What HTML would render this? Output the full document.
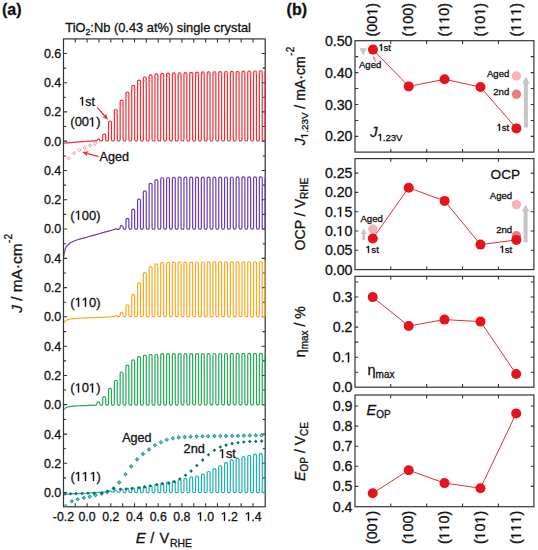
<!DOCTYPE html>
<html><head><meta charset="utf-8"><style>
html,body{margin:0;padding:0;background:#fff;}
svg{display:block;}
text{font-family:"Liberation Sans", sans-serif;fill:#111;stroke:#111;stroke-width:0.3px;}
</style></head><body>
<svg width="538" height="550" viewBox="0 0 538 550">
<rect width="538" height="550" fill="#fff"/>
<rect x="63.5" y="38.9" width="201.70" height="467.90" fill="none" stroke="#333" stroke-width="1.2"/>
<path d="M75.25 38.9v3.5M75.25 506.8v-3.5M87.10 38.9v3.5M87.10 506.8v-3.5M98.95 38.9v3.5M98.95 506.8v-3.5M110.80 38.9v3.5M110.80 506.8v-3.5M122.65 38.9v3.5M122.65 506.8v-3.5M134.50 38.9v3.5M134.50 506.8v-3.5M146.35 38.9v3.5M146.35 506.8v-3.5M158.20 38.9v3.5M158.20 506.8v-3.5M170.05 38.9v3.5M170.05 506.8v-3.5M181.90 38.9v3.5M181.90 506.8v-3.5M193.75 38.9v3.5M193.75 506.8v-3.5M205.60 38.9v3.5M205.60 506.8v-3.5M217.45 38.9v3.5M217.45 506.8v-3.5M229.30 38.9v3.5M229.30 506.8v-3.5M241.15 38.9v3.5M241.15 506.8v-3.5M253.00 38.9v3.5M253.00 506.8v-3.5M63.5 141.10h3.6M265.2 141.10h-3.6M63.5 126.50h2.6M265.2 126.50h-2.6M63.5 111.90h3.6M265.2 111.90h-3.6M63.5 97.30h2.6M265.2 97.30h-2.6M63.5 82.70h3.6M265.2 82.70h-3.6M63.5 68.10h2.6M265.2 68.10h-2.6M63.5 53.50h3.6M265.2 53.50h-3.6M63.5 228.95h3.6M265.2 228.95h-3.6M63.5 214.35h2.6M265.2 214.35h-2.6M63.5 199.75h3.6M265.2 199.75h-3.6M63.5 185.15h2.6M265.2 185.15h-2.6M63.5 170.55h3.6M265.2 170.55h-3.6M63.5 155.95h2.6M265.2 155.95h-2.6M63.5 316.80h3.6M265.2 316.80h-3.6M63.5 302.20h2.6M265.2 302.20h-2.6M63.5 287.60h3.6M265.2 287.60h-3.6M63.5 273.00h2.6M265.2 273.00h-2.6M63.5 258.40h3.6M265.2 258.40h-3.6M63.5 243.80h2.6M265.2 243.80h-2.6M63.5 404.65h3.6M265.2 404.65h-3.6M63.5 390.05h2.6M265.2 390.05h-2.6M63.5 375.45h3.6M265.2 375.45h-3.6M63.5 360.85h2.6M265.2 360.85h-2.6M63.5 346.25h3.6M265.2 346.25h-3.6M63.5 331.65h2.6M265.2 331.65h-2.6M63.5 492.50h3.6M265.2 492.50h-3.6M63.5 477.90h2.6M265.2 477.90h-2.6M63.5 463.30h3.6M265.2 463.30h-3.6M63.5 448.70h2.6M265.2 448.70h-2.6M63.5 434.10h3.6M265.2 434.10h-3.6M63.5 419.50h2.6M265.2 419.50h-2.6" stroke="#333" stroke-width="1.1" fill="none"/>
<text x="61.3" y="145.55" font-size="12.5" text-anchor="end">0.0</text>
<text x="61.3" y="116.35" font-size="12.5" text-anchor="end">0.2</text>
<text x="61.3" y="87.15" font-size="12.5" text-anchor="end">0.4</text>
<text x="61.3" y="57.95" font-size="12.5" text-anchor="end">0.6</text>
<text x="61.3" y="233.40" font-size="12.5" text-anchor="end">0.0</text>
<text x="61.3" y="204.20" font-size="12.5" text-anchor="end">0.2</text>
<text x="61.3" y="175.00" font-size="12.5" text-anchor="end">0.4</text>
<text x="61.3" y="321.25" font-size="12.5" text-anchor="end">0.0</text>
<text x="61.3" y="292.05" font-size="12.5" text-anchor="end">0.2</text>
<text x="61.3" y="262.85" font-size="12.5" text-anchor="end">0.4</text>
<text x="61.3" y="409.10" font-size="12.5" text-anchor="end">0.0</text>
<text x="61.3" y="379.90" font-size="12.5" text-anchor="end">0.2</text>
<text x="61.3" y="350.70" font-size="12.5" text-anchor="end">0.4</text>
<text x="61.3" y="496.95" font-size="12.5" text-anchor="end">0.0</text>
<text x="61.3" y="467.75" font-size="12.5" text-anchor="end">0.2</text>
<text x="61.3" y="438.55" font-size="12.5" text-anchor="end">0.4</text>
<text x="63.40" y="520.7" font-size="12.3" text-anchor="middle">-0.2</text>
<text x="87.10" y="520.7" font-size="12.3" text-anchor="middle">0.0</text>
<text x="110.80" y="520.7" font-size="12.3" text-anchor="middle">0.2</text>
<text x="134.50" y="520.7" font-size="12.3" text-anchor="middle">0.4</text>
<text x="158.20" y="520.7" font-size="12.3" text-anchor="middle">0.6</text>
<text x="181.90" y="520.7" font-size="12.3" text-anchor="middle">0.8</text>
<text x="205.60" y="520.7" font-size="12.3" text-anchor="middle"> .0</text>
<text x="229.30" y="520.7" font-size="12.3" text-anchor="middle"> .2</text>
<text x="253.00" y="520.7" font-size="12.3" text-anchor="middle"> .4</text>
<defs><clipPath id="ca"><rect x="64.1" y="39.5" width="201.7" height="466.7"/></clipPath></defs>
<g clip-path="url(#ca)" fill="none" stroke-width="1.2" stroke-linejoin="round">
<path d="M63.50 143.10L65.05 142.98L66.15 142.90L67.15 142.82L70.85 142.54L71.95 142.46L72.95 142.38L76.65 142.10L77.75 142.01L78.75 141.94L82.45 141.66L83.55 141.57L84.55 141.50L88.25 141.22L89.35 141.13L90.35 141.06L94.05 140.81L95.15 140.85L96.15 140.88L96.65 140.95Q98.40 137.25 100.15 140.95L100.95 141.00L101.95 141.00L101.44 141.00Q102.75 141.00 102.75 139.55L102.75 135.50Q102.75 134.05 104.20 134.05Q105.65 134.05 105.65 135.50L105.65 139.55Q105.65 141.00 106.96 141.00L106.75 141.00L107.75 141.00L107.24 141.00Q108.55 141.00 108.55 139.55L108.55 122.45Q108.55 121.00 110.00 121.00Q111.45 121.00 111.45 122.45L111.45 139.55Q111.45 141.00 112.76 141.00L112.55 141.00L113.55 141.00L113.05 141.00Q114.35 141.00 114.35 139.55L114.35 110.96Q114.35 109.51 115.80 109.51Q117.25 109.51 117.25 110.96L117.25 139.55Q117.25 141.00 118.56 141.00L118.35 141.00L119.35 141.00L118.84 141.00Q120.15 141.00 120.15 139.55L120.15 101.50Q120.15 100.05 121.60 100.05Q123.05 100.05 123.05 101.50L123.05 139.55Q123.05 141.00 124.36 141.00L124.15 141.00L125.15 141.00L124.64 141.00Q125.95 141.00 125.95 139.55L125.95 93.56Q125.95 92.11 127.40 92.11Q128.85 92.11 128.85 93.56L128.85 139.55Q128.85 141.00 130.16 141.00L129.95 141.00L130.95 141.00L130.44 141.00Q131.75 141.00 131.75 139.55L131.75 86.88Q131.75 85.43 133.20 85.43Q134.65 85.43 134.65 86.88L134.65 139.55Q134.65 141.00 135.95 141.00L135.75 141.00L136.75 141.00L136.25 141.00Q137.55 141.00 137.55 139.55L137.55 81.58Q137.55 80.13 139.00 80.13Q140.45 80.13 140.45 81.58L140.45 139.55Q140.45 141.00 141.75 141.00L141.55 141.00L142.55 141.00L142.05 141.00Q143.35 141.00 143.35 139.55L143.35 78.22Q143.35 76.77 144.80 76.77Q146.25 76.77 146.25 78.22L146.25 139.55Q146.25 141.00 147.56 141.00L147.35 141.00L148.35 141.00L147.84 141.00Q149.15 141.00 149.15 139.55L149.15 76.40Q149.15 74.95 150.60 74.95Q152.05 74.95 152.05 76.40L152.05 139.55Q152.05 141.00 153.35 141.00L153.15 141.00L154.15 141.00L153.65 141.00Q154.95 141.00 154.95 139.55L154.95 75.40Q154.95 73.95 156.40 73.95Q157.85 73.95 157.85 75.40L157.85 139.55Q157.85 141.00 159.16 141.00L158.95 141.00L159.95 141.00L159.44 141.00Q160.75 141.00 160.75 139.55L160.75 74.84Q160.75 73.39 162.20 73.39Q163.65 73.39 163.65 74.84L163.65 139.55Q163.65 141.00 164.95 141.00L164.75 141.00L165.75 141.00L165.25 141.00Q166.55 141.00 166.55 139.55L166.55 74.62Q166.55 73.17 168.00 73.17Q169.45 73.17 169.45 74.62L169.45 139.55Q169.45 141.00 170.75 141.00L170.55 141.00L171.55 141.00L171.05 141.00Q172.35 141.00 172.35 139.55L172.35 74.41Q172.35 72.96 173.80 72.96Q175.25 72.96 175.25 74.41L175.25 139.55Q175.25 141.00 176.56 141.00L176.35 141.00L177.35 141.00L176.85 141.00Q178.15 141.00 178.15 139.55L178.15 74.20Q178.15 72.75 179.60 72.75Q181.05 72.75 181.05 74.20L181.05 139.55Q181.05 141.00 182.36 141.00L182.15 141.00L183.15 141.00L182.65 141.00Q183.95 141.00 183.95 139.55L183.95 73.99Q183.95 72.54 185.40 72.54Q186.85 72.54 186.85 73.99L186.85 139.55Q186.85 141.00 188.16 141.00L187.95 141.00L188.95 141.00L188.44 141.00Q189.75 141.00 189.75 139.55L189.75 73.77Q189.75 72.32 191.20 72.32Q192.65 72.32 192.65 73.77L192.65 139.55Q192.65 141.00 193.95 141.00L193.75 141.00L194.75 141.00L194.25 141.00Q195.55 141.00 195.55 139.55L195.55 73.56Q195.55 72.11 197.00 72.11Q198.45 72.11 198.45 73.56L198.45 139.55Q198.45 141.00 199.75 141.00L199.55 141.00L200.55 141.00L200.05 141.00Q201.35 141.00 201.35 139.55L201.35 73.40Q201.35 71.95 202.80 71.95Q204.25 71.95 204.25 73.40L204.25 139.55Q204.25 141.00 205.56 141.00L205.35 141.00L206.35 141.00L205.85 141.00Q207.15 141.00 207.15 139.55L207.15 73.29Q207.15 71.84 208.60 71.84Q210.05 71.84 210.05 73.29L210.05 139.55Q210.05 141.00 211.36 141.00L211.15 141.00L212.15 141.00L211.65 141.00Q212.95 141.00 212.95 139.55L212.95 73.18Q212.95 71.73 214.40 71.73Q215.85 71.73 215.85 73.18L215.85 139.55Q215.85 141.00 217.16 141.00L216.95 141.00L217.95 141.00L217.44 141.00Q218.75 141.00 218.75 139.55L218.75 73.08Q218.75 71.63 220.20 71.63Q221.65 71.63 221.65 73.08L221.65 139.55Q221.65 141.00 222.95 141.00L222.75 141.00L223.75 141.00L223.25 141.00Q224.55 141.00 224.55 139.55L224.55 72.97Q224.55 71.52 226.00 71.52Q227.45 71.52 227.45 72.97L227.45 139.55Q227.45 141.00 228.75 141.00L228.55 141.00L229.55 141.00L229.05 141.00Q230.35 141.00 230.35 139.55L230.35 72.86Q230.35 71.41 231.80 71.41Q233.25 71.41 233.25 72.86L233.25 139.55Q233.25 141.00 234.56 141.00L234.35 141.00L235.35 141.00L234.84 141.00Q236.15 141.00 236.15 139.55L236.15 72.76Q236.15 71.31 237.60 71.31Q239.05 71.31 239.05 72.76L239.05 139.55Q239.05 141.00 240.35 141.00L240.15 141.00L241.15 141.00L240.65 141.00Q241.95 141.00 241.95 139.55L241.95 72.65Q241.95 71.20 243.40 71.20Q244.85 71.20 244.85 72.65L244.85 139.55Q244.85 141.00 246.16 141.00L245.95 141.00L246.95 141.00L246.44 141.00Q247.75 141.00 247.75 139.55L247.75 72.54Q247.75 71.09 249.20 71.09Q250.65 71.09 250.65 72.54L250.65 139.55Q250.65 141.00 251.95 141.00L251.75 141.00L252.75 141.00L252.25 141.00Q253.55 141.00 253.55 139.55L253.55 72.43Q253.55 70.98 255.00 70.98Q256.45 70.98 256.45 72.43L256.45 139.55Q256.45 141.00 257.75 141.00L257.55 141.00L258.55 141.00L258.05 141.00Q259.35 141.00 259.35 139.55L259.35 72.33Q259.35 70.88 260.80 70.88Q262.25 70.88 262.25 72.33L262.25 139.55Q262.25 141.00 263.56 141.00L263.35 141.00L264.35 141.00L263.85 141.00Q265.15 141.00 265.15 139.55L265.15 72.25Q265.15 70.80 266.60 70.80Q268.05 70.80 268.05 72.25L268.05 139.55Q268.05 141.00 269.36 141.00" stroke="#EC2E36"/>
<path d="M63.50 257.50L65.05 249.53L66.15 246.81L67.15 245.51L70.85 242.48L71.95 241.95L72.95 241.48L76.65 240.04L77.75 239.73L78.75 239.45L82.45 238.41L83.55 238.10L84.55 237.82L88.25 236.78L89.35 236.47L90.35 236.19L94.05 235.15L95.15 234.85L96.15 234.57L99.85 233.53L100.95 233.22L101.95 232.94L105.65 231.90L106.75 231.59L107.75 231.31L111.45 230.27L112.55 229.96L113.55 229.68L114.05 229.42Q115.80 228.30 117.55 229.42L118.35 229.29L119.35 229.23L118.84 229.20Q120.15 229.20 120.15 227.75L120.15 227.03Q120.15 225.58 121.60 225.58Q123.05 225.58 123.05 227.03L123.05 227.75Q123.05 229.20 124.36 229.20L124.15 229.20L125.15 229.19L124.64 229.19Q125.95 229.19 125.95 227.74L125.95 219.77Q125.95 218.32 127.40 218.32Q128.85 218.32 128.85 219.77L128.85 227.74Q128.85 229.19 130.16 229.19L129.95 229.19L130.95 229.19L130.44 229.19Q131.75 229.19 131.75 227.74L131.75 210.64Q131.75 209.19 133.20 209.19Q134.65 209.19 134.65 210.64L134.65 227.74Q134.65 229.19 135.95 229.19L135.75 229.18L136.75 229.18L136.25 229.18Q137.55 229.18 137.55 227.73L137.55 200.49Q137.55 199.04 139.00 199.04Q140.45 199.04 140.45 200.49L140.45 227.73Q140.45 229.18 141.75 229.18L141.55 229.18L142.55 229.17L142.05 229.17Q143.35 229.17 143.35 227.72L143.35 192.30Q143.35 190.85 144.80 190.85Q146.25 190.85 146.25 192.30L146.25 227.72Q146.25 229.17 147.56 229.17L147.35 229.17L148.35 229.17L147.84 229.17Q149.15 229.17 149.15 227.72L149.15 184.75Q149.15 183.30 150.60 183.30Q152.05 183.30 152.05 184.75L152.05 227.72Q152.05 229.17 153.35 229.17L153.15 229.16L154.15 229.16L153.65 229.16Q154.95 229.16 154.95 227.71L154.95 181.11Q154.95 179.66 156.40 179.66Q157.85 179.66 157.85 181.11L157.85 227.71Q157.85 229.16 159.16 229.16L158.95 229.16L159.95 229.16L159.44 229.15Q160.75 229.15 160.75 227.70L160.75 179.20Q160.75 177.75 162.20 177.75Q163.65 177.75 163.65 179.20L163.65 227.70Q163.65 229.15 164.95 229.15L164.75 229.15L165.75 229.15L165.25 229.15Q166.55 229.15 166.55 227.70L166.55 178.97Q166.55 177.52 168.00 177.52Q169.45 177.52 169.45 178.97L169.45 227.70Q169.45 229.15 170.75 229.15L170.55 229.14L171.55 229.14L171.05 229.14Q172.35 229.14 172.35 227.69L172.35 178.74Q172.35 177.29 173.80 177.29Q175.25 177.29 175.25 178.74L175.25 227.69Q175.25 229.14 176.56 229.14L176.35 229.14L177.35 229.14L176.85 229.13Q178.15 229.13 178.15 227.68L178.15 178.67Q178.15 177.22 179.60 177.22Q181.05 177.22 181.05 178.67L181.05 227.68Q181.05 229.13 182.36 229.13L182.15 229.13L183.15 229.13L182.65 229.13Q183.95 229.13 183.95 227.68L183.95 178.64Q183.95 177.19 185.40 177.19Q186.85 177.19 186.85 178.64L186.85 227.68Q186.85 229.13 188.16 229.13L187.95 229.12L188.95 229.12L188.44 229.12Q189.75 229.12 189.75 227.67L189.75 178.62Q189.75 177.17 191.20 177.17Q192.65 177.17 192.65 178.62L192.65 227.67Q192.65 229.12 193.95 229.12L193.75 229.12L194.75 229.12L194.25 229.11Q195.55 229.11 195.55 227.66L195.55 178.59Q195.55 177.14 197.00 177.14Q198.45 177.14 198.45 178.59L198.45 227.66Q198.45 229.11 199.75 229.11L199.55 229.11L200.55 229.11L200.05 229.11Q201.35 229.11 201.35 227.66L201.35 178.57Q201.35 177.12 202.80 177.12Q204.25 177.12 204.25 178.57L204.25 227.66Q204.25 229.11 205.56 229.11L205.35 229.11L206.35 229.10L205.85 229.10Q207.15 229.10 207.15 227.65L207.15 178.54Q207.15 177.09 208.60 177.09Q210.05 177.09 210.05 178.54L210.05 227.65Q210.05 229.10 211.36 229.10L211.15 229.10L212.15 229.10L211.65 229.10Q212.95 229.10 212.95 227.65L212.95 178.51Q212.95 177.06 214.40 177.06Q215.85 177.06 215.85 178.51L215.85 227.65Q215.85 229.10 217.16 229.10L216.95 229.09L217.95 229.09L217.44 229.09Q218.75 229.09 218.75 227.64L218.75 178.49Q218.75 177.04 220.20 177.04Q221.65 177.04 221.65 178.49L221.65 227.64Q221.65 229.09 222.95 229.09L222.75 229.09L223.75 229.08L223.25 229.08Q224.55 229.08 224.55 227.63L224.55 178.46Q224.55 177.01 226.00 177.01Q227.45 177.01 227.45 178.46L227.45 227.63Q227.45 229.08 228.75 229.08L228.55 229.08L229.55 229.08L229.05 229.08Q230.35 229.08 230.35 227.63L230.35 178.44Q230.35 176.99 231.80 176.99Q233.25 176.99 233.25 178.44L233.25 227.63Q233.25 229.08 234.56 229.08L234.35 229.07L235.35 229.07L234.84 229.07Q236.15 229.07 236.15 227.62L236.15 178.41Q236.15 176.96 237.60 176.96Q239.05 176.96 239.05 178.41L239.05 227.62Q239.05 229.07 240.35 229.07L240.15 229.07L241.15 229.07L240.65 229.06Q241.95 229.06 241.95 227.61L241.95 178.38Q241.95 176.93 243.40 176.93Q244.85 176.93 244.85 178.38L244.85 227.61Q244.85 229.06 246.16 229.06L245.95 229.06L246.95 229.06L246.44 229.06Q247.75 229.06 247.75 227.61L247.75 178.36Q247.75 176.91 249.20 176.91Q250.65 176.91 250.65 178.36L250.65 227.61Q250.65 229.06 251.95 229.06L251.75 229.05L252.75 229.05L252.25 229.05Q253.55 229.05 253.55 227.60L253.55 178.33Q253.55 176.88 255.00 176.88Q256.45 176.88 256.45 178.33L256.45 227.60Q256.45 229.05 257.75 229.05L257.55 229.05L258.55 229.05L258.05 229.04Q259.35 229.04 259.35 227.59L259.35 178.31Q259.35 176.86 260.80 176.86Q262.25 176.86 262.25 178.31L262.25 227.59Q262.25 229.04 263.56 229.04L263.35 229.04L264.35 229.04L263.85 229.04Q265.15 229.04 265.15 227.59L265.15 178.29Q265.15 176.84 266.60 176.84Q268.05 176.84 268.05 178.29L268.05 227.59Q268.05 229.04 269.36 229.04" stroke="#6B3AB2"/>
<path d="M63.50 323.50L65.05 321.17L66.15 320.26L67.15 319.88L70.85 318.99L71.95 318.84L72.95 318.69L76.65 318.33L77.75 318.28L78.75 318.23L82.45 318.07L83.55 318.02L84.55 317.97L88.25 317.81L89.35 317.76L90.35 317.71L94.05 317.55L95.15 317.50L96.15 317.45L99.85 317.29L100.95 317.24L101.95 317.19L105.65 317.03L106.75 316.98L107.75 316.93L111.45 316.77L112.55 316.72L113.55 316.67L114.05 316.60Q115.80 314.70 117.55 316.60L118.35 316.60L119.35 316.60L118.84 316.60Q120.15 316.60 120.15 315.15L120.15 313.90Q120.15 312.45 121.60 312.45Q123.05 312.45 123.05 313.90L123.05 315.15Q123.05 316.60 124.36 316.60L124.15 316.60L125.15 316.61L124.64 316.61Q125.95 316.61 125.95 315.16L125.95 306.20Q125.95 304.75 127.40 304.75Q128.85 304.75 128.85 306.20L128.85 315.16Q128.85 316.61 130.16 316.61L129.95 316.61L130.95 316.61L130.44 316.61Q131.75 316.61 131.75 315.16L131.75 295.78Q131.75 294.33 133.20 294.33Q134.65 294.33 134.65 295.78L134.65 315.16Q134.65 316.61 135.95 316.61L135.75 316.61L136.75 316.61L136.25 316.61Q137.55 316.61 137.55 315.16L137.55 284.26Q137.55 282.81 139.00 282.81Q140.45 282.81 140.45 284.26L140.45 315.16Q140.45 316.61 141.75 316.61L141.55 316.61L142.55 316.61L142.05 316.62Q143.35 316.62 143.35 315.17L143.35 274.11Q143.35 272.66 144.80 272.66Q146.25 272.66 146.25 274.11L146.25 315.17Q146.25 316.62 147.56 316.62L147.35 316.62L148.35 316.62L147.84 316.62Q149.15 316.62 149.15 315.17L149.15 268.17Q149.15 266.72 150.60 266.72Q152.05 266.72 152.05 268.17L152.05 315.17Q152.05 316.62 153.35 316.62L153.15 316.62L154.15 316.62L153.65 316.62Q154.95 316.62 154.95 315.17L154.95 265.37Q154.95 263.92 156.40 263.92Q157.85 263.92 157.85 265.37L157.85 315.17Q157.85 316.62 159.16 316.62L158.95 316.62L159.95 316.62L159.44 316.63Q160.75 316.63 160.75 315.18L160.75 264.07Q160.75 262.62 162.20 262.62Q163.65 262.62 163.65 264.07L163.65 315.18Q163.65 316.63 164.95 316.63L164.75 316.63L165.75 316.63L165.25 316.63Q166.55 316.63 166.55 315.18L166.55 263.85Q166.55 262.40 168.00 262.40Q169.45 262.40 169.45 263.85L169.45 315.18Q169.45 316.63 170.75 316.63L170.55 316.63L171.55 316.63L171.05 316.63Q172.35 316.63 172.35 315.18L172.35 263.63Q172.35 262.18 173.80 262.18Q175.25 262.18 175.25 263.63L175.25 315.18Q175.25 316.63 176.56 316.63L176.35 316.63L177.35 316.63L176.85 316.63Q178.15 316.63 178.15 315.18L178.15 263.56Q178.15 262.11 179.60 262.11Q181.05 262.11 181.05 263.56L181.05 315.18Q181.05 316.63 182.36 316.63L182.15 316.64L183.15 316.64L182.65 316.64Q183.95 316.64 183.95 315.19L183.95 263.53Q183.95 262.08 185.40 262.08Q186.85 262.08 186.85 263.53L186.85 315.19Q186.85 316.64 188.16 316.64L187.95 316.64L188.95 316.64L188.44 316.64Q189.75 316.64 189.75 315.19L189.75 263.50Q189.75 262.05 191.20 262.05Q192.65 262.05 192.65 263.50L192.65 315.19Q192.65 316.64 193.95 316.64L193.75 316.64L194.75 316.64L194.25 316.64Q195.55 316.64 195.55 315.19L195.55 263.47Q195.55 262.02 197.00 262.02Q198.45 262.02 198.45 263.47L198.45 315.19Q198.45 316.64 199.75 316.64L199.55 316.65L200.55 316.65L200.05 316.65Q201.35 316.65 201.35 315.20L201.35 263.44Q201.35 261.99 202.80 261.99Q204.25 261.99 204.25 263.44L204.25 315.20Q204.25 316.65 205.56 316.65L205.35 316.65L206.35 316.65L205.85 316.65Q207.15 316.65 207.15 315.20L207.15 263.41Q207.15 261.96 208.60 261.96Q210.05 261.96 210.05 263.41L210.05 315.20Q210.05 316.65 211.36 316.65L211.15 316.65L212.15 316.65L211.65 316.65Q212.95 316.65 212.95 315.20L212.95 263.38Q212.95 261.93 214.40 261.93Q215.85 261.93 215.85 263.38L215.85 315.20Q215.85 316.65 217.16 316.65L216.95 316.66L217.95 316.66L217.44 316.66Q218.75 316.66 218.75 315.21L218.75 263.36Q218.75 261.91 220.20 261.91Q221.65 261.91 221.65 263.36L221.65 315.21Q221.65 316.66 222.95 316.66L222.75 316.66L223.75 316.66L223.25 316.66Q224.55 316.66 224.55 315.21L224.55 263.33Q224.55 261.88 226.00 261.88Q227.45 261.88 227.45 263.33L227.45 315.21Q227.45 316.66 228.75 316.66L228.55 316.66L229.55 316.66L229.05 316.66Q230.35 316.66 230.35 315.21L230.35 263.30Q230.35 261.85 231.80 261.85Q233.25 261.85 233.25 263.30L233.25 315.21Q233.25 316.66 234.56 316.66L234.35 316.66L235.35 316.67L234.84 316.67Q236.15 316.67 236.15 315.22L236.15 263.27Q236.15 261.82 237.60 261.82Q239.05 261.82 239.05 263.27L239.05 315.22Q239.05 316.67 240.35 316.67L240.15 316.67L241.15 316.67L240.65 316.67Q241.95 316.67 241.95 315.22L241.95 263.24Q241.95 261.79 243.40 261.79Q244.85 261.79 244.85 263.24L244.85 315.22Q244.85 316.67 246.16 316.67L245.95 316.67L246.95 316.67L246.44 316.67Q247.75 316.67 247.75 315.22L247.75 263.21Q247.75 261.76 249.20 261.76Q250.65 261.76 250.65 263.21L250.65 315.22Q250.65 316.67 251.95 316.67L251.75 316.67L252.75 316.67L252.25 316.68Q253.55 316.68 253.55 315.23L253.55 263.18Q253.55 261.73 255.00 261.73Q256.45 261.73 256.45 263.18L256.45 315.23Q256.45 316.68 257.75 316.68L257.55 316.68L258.55 316.68L258.05 316.68Q259.35 316.68 259.35 315.23L259.35 263.15Q259.35 261.70 260.80 261.70Q262.25 261.70 262.25 263.15L262.25 315.23Q262.25 316.68 263.56 316.68L263.35 316.68L264.35 316.68L263.85 316.68Q265.15 316.68 265.15 315.23L265.15 263.13Q265.15 261.68 266.60 261.68Q268.05 261.68 268.05 263.13L268.05 315.23Q268.05 316.68 269.36 316.68" stroke="#F9A920"/>
<path d="M63.50 409.80L65.05 408.25L66.15 407.58L67.15 407.23L70.85 406.43L71.95 406.29L72.95 406.16L76.65 405.84L77.75 405.80L78.75 405.76L82.45 405.63L83.55 405.59L84.55 405.55L88.25 405.42L89.35 405.38L90.35 405.34L94.05 405.21L95.15 405.20L96.15 405.20L95.64 405.19Q96.95 405.19 96.95 403.74L96.95 403.38Q96.95 401.93 98.40 401.93Q99.85 401.93 99.85 403.38L99.85 403.74Q99.85 405.19 101.16 405.19L100.95 405.19L101.95 405.19L101.44 405.18Q102.75 405.18 102.75 403.73L102.75 398.07Q102.75 396.62 104.20 396.62Q105.65 396.62 105.65 398.07L105.65 403.73Q105.65 405.18 106.96 405.18L106.75 405.18L107.75 405.17L107.24 405.17Q108.55 405.17 108.55 403.72L108.55 389.91Q108.55 388.46 110.00 388.46Q111.45 388.46 111.45 389.91L111.45 403.72Q111.45 405.17 112.76 405.17L112.55 405.16L113.55 405.16L113.05 405.16Q114.35 405.16 114.35 403.71L114.35 381.72Q114.35 380.27 115.80 380.27Q117.25 380.27 117.25 381.72L117.25 403.71Q117.25 405.16 118.56 405.16L118.35 405.15L119.35 405.15L118.84 405.15Q120.15 405.15 120.15 403.70L120.15 373.43Q120.15 371.98 121.60 371.98Q123.05 371.98 123.05 373.43L123.05 403.70Q123.05 405.15 124.36 405.15L124.15 405.14L125.15 405.14L124.64 405.14Q125.95 405.14 125.95 403.69L125.95 366.51Q125.95 365.06 127.40 365.06Q128.85 365.06 128.85 366.51L128.85 403.69Q128.85 405.14 130.16 405.14L129.95 405.13L130.95 405.13L130.44 405.12Q131.75 405.12 131.75 403.67L131.75 361.24Q131.75 359.79 133.20 359.79Q134.65 359.79 134.65 361.24L134.65 403.67Q134.65 405.12 135.95 405.12L135.75 405.12L136.75 405.12L136.25 405.11Q137.55 405.11 137.55 403.66L137.55 358.03Q137.55 356.58 139.00 356.58Q140.45 356.58 140.45 358.03L140.45 403.66Q140.45 405.11 141.75 405.11L141.55 405.11L142.55 405.11L142.05 405.10Q143.35 405.10 143.35 403.65L143.35 356.60Q143.35 355.15 144.80 355.15Q146.25 355.15 146.25 356.60L146.25 403.65Q146.25 405.10 147.56 405.10L147.35 405.10L148.35 405.09L147.84 405.09Q149.15 405.09 149.15 403.64L149.15 356.12Q149.15 354.67 150.60 354.67Q152.05 354.67 152.05 356.12L152.05 403.64Q152.05 405.09 153.35 405.09L153.15 405.09L154.15 405.08L153.65 405.08Q154.95 405.08 154.95 403.63L154.95 355.69Q154.95 354.24 156.40 354.24Q157.85 354.24 157.85 355.69L157.85 403.63Q157.85 405.08 159.16 405.08L158.95 405.07L159.95 405.07L159.44 405.07Q160.75 405.07 160.75 403.62L160.75 355.12Q160.75 353.67 162.20 353.67Q163.65 353.67 163.65 355.12L163.65 403.62Q163.65 405.07 164.95 405.07L164.75 405.06L165.75 405.06L165.25 405.06Q166.55 405.06 166.55 403.61L166.55 355.10Q166.55 353.65 168.00 353.65Q169.45 353.65 169.45 355.10L169.45 403.61Q169.45 405.06 170.75 405.06L170.55 405.05L171.55 405.05L171.05 405.05Q172.35 405.05 172.35 403.60L172.35 355.08Q172.35 353.63 173.80 353.63Q175.25 353.63 175.25 355.08L175.25 403.60Q175.25 405.05 176.56 405.05L176.35 405.04L177.35 405.04L176.85 405.03Q178.15 405.03 178.15 403.58L178.15 355.07Q178.15 353.62 179.60 353.62Q181.05 353.62 181.05 355.07L181.05 403.58Q181.05 405.03 182.36 405.03L182.15 405.03L183.15 405.03L182.65 405.02Q183.95 405.02 183.95 403.57L183.95 355.05Q183.95 353.60 185.40 353.60Q186.85 353.60 186.85 355.05L186.85 403.57Q186.85 405.02 188.16 405.02L187.95 405.02L188.95 405.02L188.44 405.01Q189.75 405.01 189.75 403.56L189.75 355.03Q189.75 353.58 191.20 353.58Q192.65 353.58 192.65 355.03L192.65 403.56Q192.65 405.01 193.95 405.01L193.75 405.01L194.75 405.00L194.25 405.00Q195.55 405.00 195.55 403.55L195.55 355.02Q195.55 353.57 197.00 353.57Q198.45 353.57 198.45 355.02L198.45 403.55Q198.45 405.00 199.75 405.00L199.55 405.00L200.55 404.99L200.05 404.99Q201.35 404.99 201.35 403.54L201.35 355.00Q201.35 353.55 202.80 353.55Q204.25 353.55 204.25 355.00L204.25 403.54Q204.25 404.99 205.56 404.99L205.35 404.98L206.35 404.98L205.85 404.98Q207.15 404.98 207.15 403.53L207.15 354.98Q207.15 353.53 208.60 353.53Q210.05 353.53 210.05 354.98L210.05 403.53Q210.05 404.98 211.36 404.98L211.15 404.97L212.15 404.97L211.65 404.97Q212.95 404.97 212.95 403.52L212.95 354.97Q212.95 353.52 214.40 353.52Q215.85 353.52 215.85 354.97L215.85 403.52Q215.85 404.97 217.16 404.97L216.95 404.96L217.95 404.96L217.44 404.96Q218.75 404.96 218.75 403.51L218.75 354.95Q218.75 353.50 220.20 353.50Q221.65 353.50 221.65 354.95L221.65 403.51Q221.65 404.96 222.95 404.96L222.75 404.95L223.75 404.95L223.25 404.94Q224.55 404.94 224.55 403.49L224.55 354.93Q224.55 353.48 226.00 353.48Q227.45 353.48 227.45 354.93L227.45 403.49Q227.45 404.94 228.75 404.94L228.55 404.94L229.55 404.94L229.05 404.93Q230.35 404.93 230.35 403.48L230.35 354.91Q230.35 353.46 231.80 353.46Q233.25 353.46 233.25 354.91L233.25 403.48Q233.25 404.93 234.56 404.93L234.35 404.93L235.35 404.93L234.84 404.92Q236.15 404.92 236.15 403.47L236.15 354.90Q236.15 353.45 237.60 353.45Q239.05 353.45 239.05 354.90L239.05 403.47Q239.05 404.92 240.35 404.92L240.15 404.92L241.15 404.91L240.65 404.91Q241.95 404.91 241.95 403.46L241.95 354.88Q241.95 353.43 243.40 353.43Q244.85 353.43 244.85 354.88L244.85 403.46Q244.85 404.91 246.16 404.91L245.95 404.91L246.95 404.90L246.44 404.90Q247.75 404.90 247.75 403.45L247.75 354.86Q247.75 353.41 249.20 353.41Q250.65 353.41 250.65 354.86L250.65 403.45Q250.65 404.90 251.95 404.90L251.75 404.89L252.75 404.89L252.25 404.89Q253.55 404.89 253.55 403.44L253.55 354.85Q253.55 353.40 255.00 353.40Q256.45 353.40 256.45 354.85L256.45 403.44Q256.45 404.89 257.75 404.89L257.55 404.88L258.55 404.88L258.05 404.88Q259.35 404.88 259.35 403.43L259.35 354.83Q259.35 353.38 260.80 353.38Q262.25 353.38 262.25 354.83L262.25 403.43Q262.25 404.88 263.56 404.88L263.35 404.87L264.35 404.87L263.85 404.86Q265.15 404.86 265.15 403.41L265.15 354.81Q265.15 353.36 266.60 353.36Q268.05 353.36 268.05 354.81L268.05 403.41Q268.05 404.86 269.36 404.86" stroke="#22A954"/>
<path d="M63.50 494.40L65.05 494.32L66.15 494.26L67.15 494.20L70.85 494.01L71.95 493.95L72.95 493.89L76.65 493.70L77.75 493.64L78.75 493.58L82.45 493.38L83.55 493.33L84.55 493.27L88.25 493.07L89.35 493.01L90.35 492.96L94.05 492.76L95.15 492.70L96.15 492.65L99.85 492.45L100.95 492.39L101.95 492.34L102.45 492.22Q104.20 491.38 105.95 492.22L106.75 492.08L107.75 492.03L108.25 491.91Q110.00 489.91 111.75 491.91L112.55 491.83L113.55 491.90L114.05 492.03Q115.80 488.57 117.55 492.03L118.35 492.19L119.35 492.25L118.84 492.39Q120.15 492.39 120.15 490.94L120.15 490.43Q120.15 488.98 121.60 488.98Q123.05 488.98 123.05 490.43L123.05 490.94Q123.05 492.39 124.36 492.39L124.15 492.55L125.15 492.60L124.64 492.60Q125.95 492.60 125.95 491.15L125.95 489.92Q125.95 488.47 127.40 488.47Q128.85 488.47 128.85 489.92L128.85 491.15Q128.85 492.60 130.16 492.60L129.95 492.60L130.95 492.60L130.44 492.60Q131.75 492.60 131.75 491.15L131.75 489.24Q131.75 487.79 133.20 487.79Q134.65 487.79 134.65 489.24L134.65 491.15Q134.65 492.60 135.95 492.60L135.75 492.60L136.75 492.60L136.25 492.60Q137.55 492.60 137.55 491.15L137.55 488.45Q137.55 487.00 139.00 487.00Q140.45 487.00 140.45 488.45L140.45 491.15Q140.45 492.60 141.75 492.60L141.55 492.60L142.55 492.60L142.05 492.60Q143.35 492.60 143.35 491.15L143.35 487.77Q143.35 486.32 144.80 486.32Q146.25 486.32 146.25 487.77L146.25 491.15Q146.25 492.60 147.56 492.60L147.35 492.60L148.35 492.60L147.84 492.60Q149.15 492.60 149.15 491.15L149.15 486.93Q149.15 485.48 150.60 485.48Q152.05 485.48 152.05 486.93L152.05 491.15Q152.05 492.60 153.35 492.60L153.15 492.60L154.15 492.60L153.65 492.60Q154.95 492.60 154.95 491.15L154.95 485.75Q154.95 484.30 156.40 484.30Q157.85 484.30 157.85 485.75L157.85 491.15Q157.85 492.60 159.16 492.60L158.95 492.60L159.95 492.60L159.44 492.60Q160.75 492.60 160.75 491.15L160.75 484.78Q160.75 483.33 162.20 483.33Q163.65 483.33 163.65 484.78L163.65 491.15Q163.65 492.60 164.95 492.60L164.75 492.60L165.75 492.60L165.25 492.60Q166.55 492.60 166.55 491.15L166.55 483.23Q166.55 481.78 168.00 481.78Q169.45 481.78 169.45 483.23L169.45 491.15Q169.45 492.60 170.75 492.60L170.55 492.60L171.55 492.60L171.05 492.60Q172.35 492.60 172.35 491.15L172.35 482.33Q172.35 480.88 173.80 480.88Q175.25 480.88 175.25 482.33L175.25 491.15Q175.25 492.60 176.56 492.60L176.35 492.60L177.35 492.60L176.85 492.60Q178.15 492.60 178.15 491.15L178.15 481.17Q178.15 479.72 179.60 479.72Q181.05 479.72 181.05 481.17L181.05 491.15Q181.05 492.60 182.36 492.60L182.15 492.60L183.15 492.60L182.65 492.60Q183.95 492.60 183.95 491.15L183.95 479.75Q183.95 478.30 185.40 478.30Q186.85 478.30 186.85 479.75L186.85 491.15Q186.85 492.60 188.16 492.60L187.95 492.60L188.95 492.60L188.44 492.60Q189.75 492.60 189.75 491.15L189.75 478.28Q189.75 476.83 191.20 476.83Q192.65 476.83 192.65 478.28L192.65 491.15Q192.65 492.60 193.95 492.60L193.75 492.60L194.75 492.60L194.25 492.60Q195.55 492.60 195.55 491.15L195.55 477.43Q195.55 475.98 197.00 475.98Q198.45 475.98 198.45 477.43L198.45 491.15Q198.45 492.60 199.75 492.60L199.55 492.60L200.55 492.60L200.05 492.60Q201.35 492.60 201.35 491.15L201.35 475.50Q201.35 474.05 202.80 474.05Q204.25 474.05 204.25 475.50L204.25 491.15Q204.25 492.60 205.56 492.60L205.35 492.60L206.35 492.60L205.85 492.60Q207.15 492.60 207.15 491.15L207.15 472.95Q207.15 471.50 208.60 471.50Q210.05 471.50 210.05 472.95L210.05 491.15Q210.05 492.60 211.36 492.60L211.15 492.60L212.15 492.60L211.65 492.60Q212.95 492.60 212.95 491.15L212.95 470.10Q212.95 468.65 214.40 468.65Q215.85 468.65 215.85 470.10L215.85 491.15Q215.85 492.60 217.16 492.60L216.95 492.60L217.95 492.60L217.44 492.60Q218.75 492.60 218.75 491.15L218.75 467.20Q218.75 465.75 220.20 465.75Q221.65 465.75 221.65 467.20L221.65 491.15Q221.65 492.60 222.95 492.60L222.75 492.60L223.75 492.60L223.25 492.60Q224.55 492.60 224.55 491.15L224.55 464.06Q224.55 462.61 226.00 462.61Q227.45 462.61 227.45 464.06L227.45 491.15Q227.45 492.60 228.75 492.60L228.55 492.60L229.55 492.60L229.05 492.60Q230.35 492.60 230.35 491.15L230.35 461.34Q230.35 459.89 231.80 459.89Q233.25 459.89 233.25 461.34L233.25 491.15Q233.25 492.60 234.56 492.60L234.35 492.60L235.35 492.60L234.84 492.60Q236.15 492.60 236.15 491.15L236.15 459.50Q236.15 458.05 237.60 458.05Q239.05 458.05 239.05 459.50L239.05 491.15Q239.05 492.60 240.35 492.60L240.15 492.60L241.15 492.60L240.65 492.60Q241.95 492.60 241.95 491.15L241.95 457.96Q241.95 456.51 243.40 456.51Q244.85 456.51 244.85 457.96L244.85 491.15Q244.85 492.60 246.16 492.60L245.95 492.60L246.95 492.60L246.44 492.60Q247.75 492.60 247.75 491.15L247.75 456.70Q247.75 455.25 249.20 455.25Q250.65 455.25 250.65 456.70L250.65 491.15Q250.65 492.60 251.95 492.60L251.75 492.60L252.75 492.60L252.25 492.60Q253.55 492.60 253.55 491.15L253.55 455.66Q253.55 454.21 255.00 454.21Q256.45 454.21 256.45 455.66L256.45 491.15Q256.45 492.60 257.75 492.60L257.55 492.60L258.55 492.60L258.05 492.60Q259.35 492.60 259.35 491.15L259.35 454.90Q259.35 453.45 260.80 453.45Q262.25 453.45 262.25 454.90L262.25 491.15Q262.25 492.60 263.56 492.60L263.35 492.60L264.35 492.60L263.85 492.60Q265.15 492.60 265.15 491.15L265.15 454.58Q265.15 453.13 266.60 453.13Q268.05 453.13 268.05 454.58L268.05 491.15Q268.05 492.60 269.36 492.60" stroke="#1FAFAF"/>
</g>
<g clip-path="url(#ca)"><path d="M116.40 111.82L117.90 113.32L116.40 114.82L114.90 113.32Z" fill="none" stroke="#F58A90" stroke-width="0.9"/></g>
<g clip-path="url(#ca)"><path d="M122.20 102.48L123.70 103.98L122.20 105.48L120.70 103.98Z" fill="none" stroke="#F58A90" stroke-width="0.9"/></g>
<g clip-path="url(#ca)"><path d="M128.00 94.66L129.50 96.16L128.00 97.66L126.50 96.16Z" fill="none" stroke="#F58A90" stroke-width="0.9"/></g>
<g clip-path="url(#ca)"><path d="M133.80 88.10L135.30 89.60L133.80 91.10L132.30 89.60Z" fill="none" stroke="#F58A90" stroke-width="0.9"/></g>
<g clip-path="url(#ca)"><path d="M139.60 82.91L141.10 84.41L139.60 85.91L138.10 84.41Z" fill="none" stroke="#F58A90" stroke-width="0.9"/></g>
<g clip-path="url(#ca)"><path d="M145.40 79.67L146.90 81.17L145.40 82.67L143.90 81.17Z" fill="none" stroke="#F58A90" stroke-width="0.9"/></g>
<g clip-path="url(#ca)"><path d="M151.20 77.89L152.70 79.39L151.20 80.89L149.70 79.39Z" fill="none" stroke="#F58A90" stroke-width="0.9"/></g>
<g clip-path="url(#ca)"><path d="M157.00 76.31L158.50 77.81L157.00 79.31L155.50 77.81Z" fill="none" stroke="#F58A90" stroke-width="0.9"/></g>
<g clip-path="url(#ca)"><path d="M162.80 75.17L164.30 76.67L162.80 78.17L161.30 76.67Z" fill="none" stroke="#F58A90" stroke-width="0.9"/></g>
<g clip-path="url(#ca)"><path d="M168.60 74.37L170.10 75.87L168.60 77.37L167.10 75.87Z" fill="none" stroke="#F58A90" stroke-width="0.9"/></g>
<g clip-path="url(#ca)"><path d="M174.40 73.92L175.90 75.42L174.40 76.92L172.90 75.42Z" fill="none" stroke="#F58A90" stroke-width="0.9"/></g>
<g clip-path="url(#ca)"><path d="M180.20 73.66L181.70 75.16L180.20 76.66L178.70 75.16Z" fill="none" stroke="#F58A90" stroke-width="0.9"/></g>
<g clip-path="url(#ca)"><path d="M186.00 73.39L187.50 74.89L186.00 76.39L184.50 74.89Z" fill="none" stroke="#F58A90" stroke-width="0.9"/></g>
<g clip-path="url(#ca)"><path d="M191.80 73.12L193.30 74.62L191.80 76.12L190.30 74.62Z" fill="none" stroke="#F58A90" stroke-width="0.9"/></g>
<g clip-path="url(#ca)"><path d="M197.60 72.86L199.10 74.36L197.60 75.86L196.10 74.36Z" fill="none" stroke="#F58A90" stroke-width="0.9"/></g>
<g clip-path="url(#ca)"><path d="M203.40 72.64L204.90 74.14L203.40 75.64L201.90 74.14Z" fill="none" stroke="#F58A90" stroke-width="0.9"/></g>
<g clip-path="url(#ca)"><path d="M209.20 72.48L210.70 73.98L209.20 75.48L207.70 73.98Z" fill="none" stroke="#F58A90" stroke-width="0.9"/></g>
<g clip-path="url(#ca)"><path d="M215.00 72.32L216.50 73.82L215.00 75.32L213.50 73.82Z" fill="none" stroke="#F58A90" stroke-width="0.9"/></g>
<g clip-path="url(#ca)"><path d="M220.80 72.16L222.30 73.66L220.80 75.16L219.30 73.66Z" fill="none" stroke="#F58A90" stroke-width="0.9"/></g>
<g clip-path="url(#ca)"><path d="M226.60 71.99L228.10 73.49L226.60 74.99L225.10 73.49Z" fill="none" stroke="#F58A90" stroke-width="0.9"/></g>
<g clip-path="url(#ca)"><path d="M232.40 71.83L233.90 73.33L232.40 74.83L230.90 73.33Z" fill="none" stroke="#F58A90" stroke-width="0.9"/></g>
<g clip-path="url(#ca)"><path d="M238.20 71.67L239.70 73.17L238.20 74.67L236.70 73.17Z" fill="none" stroke="#F58A90" stroke-width="0.9"/></g>
<g clip-path="url(#ca)"><path d="M244.00 71.51L245.50 73.01L244.00 74.51L242.50 73.01Z" fill="none" stroke="#F58A90" stroke-width="0.9"/></g>
<g clip-path="url(#ca)"><path d="M249.80 71.35L251.30 72.85L249.80 74.35L248.30 72.85Z" fill="none" stroke="#F58A90" stroke-width="0.9"/></g>
<g clip-path="url(#ca)"><path d="M255.60 71.19L257.10 72.69L255.60 74.19L254.10 72.69Z" fill="none" stroke="#F58A90" stroke-width="0.9"/></g>
<g clip-path="url(#ca)"><path d="M261.40 71.03L262.90 72.53L261.40 74.03L259.90 72.53Z" fill="none" stroke="#F58A90" stroke-width="0.9"/></g>
<g clip-path="url(#ca)"><path d="M267.20 70.90L268.70 72.40L267.20 73.90L265.70 72.40Z" fill="none" stroke="#F58A90" stroke-width="0.9"/></g>
<path d="M68.60 156.70L70.20 158.30L68.60 159.90L67.00 158.30Z" fill="none" stroke="#F47C84" stroke-width="0.9"/>
<path d="M74.00 151.70L75.60 153.30L74.00 154.90L72.40 153.30Z" fill="none" stroke="#F47C84" stroke-width="0.9"/>
<path d="M79.50 148.50L81.10 150.10L79.50 151.70L77.90 150.10Z" fill="none" stroke="#F47C84" stroke-width="0.9"/>
<path d="M84.70 146.20L86.30 147.80L84.70 149.40L83.10 147.80Z" fill="none" stroke="#F47C84" stroke-width="0.9"/>
<path d="M90.10 143.80L91.70 145.40L90.10 147.00L88.50 145.40Z" fill="none" stroke="#F47C84" stroke-width="0.9"/>
<path d="M95.30 141.70L96.90 143.30L95.30 144.90L93.70 143.30Z" fill="none" stroke="#F47C84" stroke-width="0.9"/>
<g clip-path="url(#ca)">
<path d="M65.60 504.65L67.15 506.20L65.60 507.75L64.05 506.20Z" fill="#9AD4D4" stroke="#2A9A9A" stroke-width="1.05"/>
<path d="M71.80 499.65L73.35 501.20L71.80 502.75L70.25 501.20Z" fill="#9AD4D4" stroke="#2A9A9A" stroke-width="1.05"/>
<path d="M77.70 497.75L79.25 499.30L77.70 500.85L76.15 499.30Z" fill="#9AD4D4" stroke="#2A9A9A" stroke-width="1.05"/>
<path d="M83.80 496.15L85.35 497.70L83.80 499.25L82.25 497.70Z" fill="#9AD4D4" stroke="#2A9A9A" stroke-width="1.05"/>
<path d="M89.70 495.15L91.25 496.70L89.70 498.25L88.15 496.70Z" fill="#9AD4D4" stroke="#2A9A9A" stroke-width="1.05"/>
<path d="M95.50 493.55L97.05 495.10L95.50 496.65L93.95 495.10Z" fill="#9AD4D4" stroke="#2A9A9A" stroke-width="1.05"/>
<path d="M101.60 492.25L103.15 493.80L101.60 495.35L100.05 493.80Z" fill="#9AD4D4" stroke="#2A9A9A" stroke-width="1.05"/>
<path d="M107.20 490.55L108.75 492.10L107.20 493.65L105.65 492.10Z" fill="#9AD4D4" stroke="#2A9A9A" stroke-width="1.05"/>
<path d="M113.50 486.65L115.05 488.20L113.50 489.75L111.95 488.20Z" fill="#9AD4D4" stroke="#2A9A9A" stroke-width="1.05"/>
<path d="M119.20 480.85L120.75 482.40L119.20 483.95L117.65 482.40Z" fill="#9AD4D4" stroke="#2A9A9A" stroke-width="1.05"/>
<path d="M125.50 472.75L127.05 474.30L125.50 475.85L123.95 474.30Z" fill="#9AD4D4" stroke="#2A9A9A" stroke-width="1.05"/>
<path d="M131.20 464.85L132.75 466.40L131.20 467.95L129.65 466.40Z" fill="#9AD4D4" stroke="#2A9A9A" stroke-width="1.05"/>
<path d="M137.10 457.85L138.65 459.40L137.10 460.95L135.55 459.40Z" fill="#9AD4D4" stroke="#2A9A9A" stroke-width="1.05"/>
<path d="M143.00 452.35L144.55 453.90L143.00 455.45L141.45 453.90Z" fill="#9AD4D4" stroke="#2A9A9A" stroke-width="1.05"/>
<path d="M149.00 447.85L150.55 449.40L149.00 450.95L147.45 449.40Z" fill="#9AD4D4" stroke="#2A9A9A" stroke-width="1.05"/>
<path d="M155.00 443.75L156.55 445.30L155.00 446.85L153.45 445.30Z" fill="#9AD4D4" stroke="#2A9A9A" stroke-width="1.05"/>
<path d="M160.90 440.75L162.45 442.30L160.90 443.85L159.35 442.30Z" fill="#9AD4D4" stroke="#2A9A9A" stroke-width="1.05"/>
<path d="M166.80 438.25L168.35 439.80L166.80 441.35L165.25 439.80Z" fill="#9AD4D4" stroke="#2A9A9A" stroke-width="1.05"/>
<path d="M172.80 436.75L174.35 438.30L172.80 439.85L171.25 438.30Z" fill="#9AD4D4" stroke="#2A9A9A" stroke-width="1.05"/>
<path d="M178.70 435.85L180.25 437.40L178.70 438.95L177.15 437.40Z" fill="#9AD4D4" stroke="#2A9A9A" stroke-width="1.05"/>
<path d="M184.70 435.55L186.25 437.10L184.70 438.65L183.15 437.10Z" fill="#9AD4D4" stroke="#2A9A9A" stroke-width="1.05"/>
<path d="M190.60 435.15L192.15 436.70L190.60 438.25L189.05 436.70Z" fill="#9AD4D4" stroke="#2A9A9A" stroke-width="1.05"/>
<path d="M196.60 434.85L198.15 436.40L196.60 437.95L195.05 436.40Z" fill="#9AD4D4" stroke="#2A9A9A" stroke-width="1.05"/>
<path d="M202.40 434.75L203.95 436.30L202.40 437.85L200.85 436.30Z" fill="#9AD4D4" stroke="#2A9A9A" stroke-width="1.05"/>
<path d="M208.20 434.65L209.75 436.20L208.20 437.75L206.65 436.20Z" fill="#9AD4D4" stroke="#2A9A9A" stroke-width="1.05"/>
<path d="M214.50 434.55L216.05 436.10L214.50 437.65L212.95 436.10Z" fill="#9AD4D4" stroke="#2A9A9A" stroke-width="1.05"/>
<path d="M220.30 434.45L221.85 436.00L220.30 437.55L218.75 436.00Z" fill="#9AD4D4" stroke="#2A9A9A" stroke-width="1.05"/>
<path d="M226.10 434.35L227.65 435.90L226.10 437.45L224.55 435.90Z" fill="#9AD4D4" stroke="#2A9A9A" stroke-width="1.05"/>
<path d="M232.20 434.25L233.75 435.80L232.20 437.35L230.65 435.80Z" fill="#9AD4D4" stroke="#2A9A9A" stroke-width="1.05"/>
<path d="M238.00 434.15L239.55 435.70L238.00 437.25L236.45 435.70Z" fill="#9AD4D4" stroke="#2A9A9A" stroke-width="1.05"/>
<path d="M243.90 434.05L245.45 435.60L243.90 437.15L242.35 435.60Z" fill="#9AD4D4" stroke="#2A9A9A" stroke-width="1.05"/>
<path d="M249.70 433.95L251.25 435.50L249.70 437.05L248.15 435.50Z" fill="#9AD4D4" stroke="#2A9A9A" stroke-width="1.05"/>
<path d="M255.80 433.85L257.35 435.40L255.80 436.95L254.25 435.40Z" fill="#9AD4D4" stroke="#2A9A9A" stroke-width="1.05"/>
<path d="M261.60 433.75L263.15 435.30L261.60 436.85L260.05 435.30Z" fill="#9AD4D4" stroke="#2A9A9A" stroke-width="1.05"/>
<path d="M65.00 492.20L66.80 494.00L65.00 495.80L63.20 494.00Z" fill="#0F6E6E" stroke="none" stroke-width="0.9"/>
<path d="M70.50 492.00L72.30 493.80L70.50 495.60L68.70 493.80Z" fill="#0F6E6E" stroke="none" stroke-width="0.9"/>
<path d="M76.00 491.80L77.80 493.60L76.00 495.40L74.20 493.60Z" fill="#0F6E6E" stroke="none" stroke-width="0.9"/>
<path d="M82.00 491.60L83.80 493.40L82.00 495.20L80.20 493.40Z" fill="#0F6E6E" stroke="none" stroke-width="0.9"/>
<path d="M88.00 491.50L89.80 493.30L88.00 495.10L86.20 493.30Z" fill="#0F6E6E" stroke="none" stroke-width="0.9"/>
<path d="M94.00 491.30L95.80 493.10L94.00 494.90L92.20 493.10Z" fill="#0F6E6E" stroke="none" stroke-width="0.9"/>
<path d="M101.90 491.10L103.70 492.90L101.90 494.70L100.10 492.90Z" fill="#0F6E6E" stroke="none" stroke-width="0.9"/>
<path d="M107.50 489.40L109.30 491.20L107.50 493.00L105.70 491.20Z" fill="#0F6E6E" stroke="none" stroke-width="0.9"/>
<path d="M113.90 487.00L115.70 488.80L113.90 490.60L112.10 488.80Z" fill="#0F6E6E" stroke="none" stroke-width="0.9"/>
<path d="M120.40 487.40L122.20 489.20L120.40 491.00L118.60 489.20Z" fill="#0F6E6E" stroke="none" stroke-width="0.9"/>
<path d="M126.20 487.20L128.00 489.00L126.20 490.80L124.40 489.00Z" fill="#0F6E6E" stroke="none" stroke-width="0.9"/>
<path d="M132.00 486.60L133.80 488.40L132.00 490.20L130.20 488.40Z" fill="#0F6E6E" stroke="none" stroke-width="0.9"/>
<path d="M139.00 485.90L140.80 487.70L139.00 489.50L137.20 487.70Z" fill="#0F6E6E" stroke="none" stroke-width="0.9"/>
<path d="M144.60 485.10L146.40 486.90L144.60 488.70L142.80 486.90Z" fill="#0F6E6E" stroke="none" stroke-width="0.9"/>
<path d="M150.20 484.00L152.00 485.80L150.20 487.60L148.40 485.80Z" fill="#0F6E6E" stroke="none" stroke-width="0.9"/>
<path d="M156.70 482.70L158.50 484.50L156.70 486.30L154.90 484.50Z" fill="#0F6E6E" stroke="none" stroke-width="0.9"/>
<path d="M162.30 481.80L164.10 483.60L162.30 485.40L160.50 483.60Z" fill="#0F6E6E" stroke="none" stroke-width="0.9"/>
<path d="M168.80 481.40L170.60 483.20L168.80 485.00L167.00 483.20Z" fill="#0F6E6E" stroke="none" stroke-width="0.9"/>
<path d="M174.30 479.90L176.10 481.70L174.30 483.50L172.50 481.70Z" fill="#0F6E6E" stroke="none" stroke-width="0.9"/>
<path d="M179.90 477.20L181.70 479.00L179.90 480.80L178.10 479.00Z" fill="#0F6E6E" stroke="none" stroke-width="0.9"/>
<path d="M185.50 473.40L187.30 475.20L185.50 477.00L183.70 475.20Z" fill="#0F6E6E" stroke="none" stroke-width="0.9"/>
<path d="M191.10 469.30L192.90 471.10L191.10 472.90L189.30 471.10Z" fill="#0F6E6E" stroke="none" stroke-width="0.9"/>
<path d="M196.90 463.70L198.70 465.50L196.90 467.30L195.10 465.50Z" fill="#0F6E6E" stroke="none" stroke-width="0.9"/>
<path d="M202.70 458.30L204.50 460.10L202.70 461.90L200.90 460.10Z" fill="#0F6E6E" stroke="none" stroke-width="0.9"/>
<path d="M208.50 452.90L210.30 454.70L208.50 456.50L206.70 454.70Z" fill="#0F6E6E" stroke="none" stroke-width="0.9"/>
<path d="M214.40 448.40L216.20 450.20L214.40 452.00L212.60 450.20Z" fill="#0F6E6E" stroke="none" stroke-width="0.9"/>
<path d="M220.30 445.20L222.10 447.00L220.30 448.80L218.50 447.00Z" fill="#0F6E6E" stroke="none" stroke-width="0.9"/>
<path d="M226.10 443.30L227.90 445.10L226.10 446.90L224.30 445.10Z" fill="#0F6E6E" stroke="none" stroke-width="0.9"/>
<path d="M232.10 441.80L233.90 443.60L232.10 445.40L230.30 443.60Z" fill="#0F6E6E" stroke="none" stroke-width="0.9"/>
<path d="M238.00 441.00L239.80 442.80L238.00 444.60L236.20 442.80Z" fill="#0F6E6E" stroke="none" stroke-width="0.9"/>
<path d="M243.80 440.20L245.60 442.00L243.80 443.80L242.00 442.00Z" fill="#0F6E6E" stroke="none" stroke-width="0.9"/>
<path d="M249.70 439.70L251.50 441.50L249.70 443.30L247.90 441.50Z" fill="#0F6E6E" stroke="none" stroke-width="0.9"/>
<path d="M255.80 439.60L257.60 441.40L255.80 443.20L254.00 441.40Z" fill="#0F6E6E" stroke="none" stroke-width="0.9"/>
<path d="M261.60 439.30L263.40 441.10L261.60 442.90L259.80 441.10Z" fill="#0F6E6E" stroke="none" stroke-width="0.9"/>
</g>
<text x="70.3" y="126.4" font-size="13" text-anchor="start" >(00 )</text>
<text x="70.3" y="219.7" font-size="13" text-anchor="start" >( 00)</text>
<text x="70.3" y="306.8" font-size="13" text-anchor="start" >(  0)</text>
<text x="70.3" y="392.4" font-size="13" text-anchor="start" >( 0 )</text>
<text x="70.5" y="481.0" font-size="13" text-anchor="start" >(   )</text>
<text x="78.4" y="105.5" font-size="12.3" text-anchor="start" > st</text>
<text x="99.6" y="161.4" font-size="12.6" text-anchor="start" >Aged</text>
<text x="122.2" y="441.6" font-size="12.6" text-anchor="start" >Aged</text>
<text x="183.6" y="453.1" font-size="12.8" text-anchor="start" >2nd</text>
<text x="218.8" y="458" font-size="12.8" text-anchor="start" > st</text>
<path d="M97.00 107.20L104.71 116.03" stroke="#EC2E36" stroke-width="1.25" fill="none"/><path d="M108.00 119.80L102.10 116.99L104.84 116.18L106.01 113.57Z" fill="#EC2E36"/>
<path d="M98.50 156.60L87.01 153.36" stroke="#EC2E36" stroke-width="1.25" fill="none"/><path d="M82.20 152.00L88.68 151.13L86.82 153.30L87.27 156.13Z" fill="#EC2E36"/>
<text x="65.3" y="32" font-size="12.85">TiO<tspan font-size="8.7" dy="2.6">2</tspan><tspan dy="-2.6">:Nb (0.43 at%) single crystal</tspan></text>
<text x="2" y="15.2" font-size="16" font-weight="bold">(a)</text>
<text x="286.6" y="15.2" font-size="16" font-weight="bold">(b)</text>
<text transform="translate(22.1 312.8) rotate(-90)" font-size="15.4"><tspan font-style="italic">J</tspan> / mA·cm<tspan font-size="10.2" dy="-10.6" dx="0.6">-2</tspan></text>
<text x="135.7" y="543.0" font-size="15.2" font-style="italic">E</text>
<text x="150.2" y="543.0" font-size="14.6">/</text>
<text x="159.6" y="543.0" font-size="14.6">V</text>
<text x="170.0" y="546.8" font-size="10.4">RHE</text>
<rect x="355.0" y="40.7" width="178.90" height="111.40" fill="none" stroke="#333" stroke-width="1.2"/>
<path d="M390.75 40.7v3.2M390.75 152.1v-3.2M426.65 40.7v3.2M426.65 152.1v-3.2M462.55 40.7v3.2M462.55 152.1v-3.2M498.45 40.7v3.2M498.45 152.1v-3.2" stroke="#333" stroke-width="1.1"/>
<rect x="355.0" y="158.6" width="178.90" height="111.00" fill="none" stroke="#333" stroke-width="1.2"/>
<path d="M390.75 158.6v3.2M390.75 269.6v-3.2M426.65 158.6v3.2M426.65 269.6v-3.2M462.55 158.6v3.2M462.55 269.6v-3.2M498.45 158.6v3.2M498.45 269.6v-3.2" stroke="#333" stroke-width="1.1"/>
<rect x="355.0" y="276.3" width="178.90" height="110.90" fill="none" stroke="#333" stroke-width="1.2"/>
<path d="M390.75 276.3v3.2M390.75 387.2v-3.2M426.65 276.3v3.2M426.65 387.2v-3.2M462.55 276.3v3.2M462.55 387.2v-3.2M498.45 276.3v3.2M498.45 387.2v-3.2" stroke="#333" stroke-width="1.1"/>
<rect x="355.0" y="395.0" width="178.90" height="111.70" fill="none" stroke="#333" stroke-width="1.2"/>
<path d="M390.75 395.0v3.2M390.75 506.7v-3.2M426.65 395.0v3.2M426.65 506.7v-3.2M462.55 395.0v3.2M462.55 506.7v-3.2M498.45 395.0v3.2M498.45 506.7v-3.2" stroke="#333" stroke-width="1.1"/>
<path d="M355.0 136.40h3.2M533.9 136.40h-3.2M355.0 120.45h3.2M533.9 120.45h-3.2M355.0 104.50h3.2M533.9 104.50h-3.2M355.0 88.55h3.2M533.9 88.55h-3.2M355.0 72.60h3.2M533.9 72.60h-3.2M355.0 56.65h3.2M533.9 56.65h-3.2" stroke="#333" stroke-width="1.1"/>
<text x="352.5" y="45.70" font-size="14.2" text-anchor="end">0.50</text>
<text x="352.5" y="77.60" font-size="14.2" text-anchor="end">0.40</text>
<text x="352.5" y="109.50" font-size="14.2" text-anchor="end">0.30</text>
<text x="352.5" y="141.40" font-size="14.2" text-anchor="end">0.20</text>
<path d="M355.0 250.30h3.2M533.9 250.30h-3.2M355.0 231.00h3.2M533.9 231.00h-3.2M355.0 211.70h3.2M533.9 211.70h-3.2M355.0 192.40h3.2M533.9 192.40h-3.2M355.0 173.10h3.2M533.9 173.10h-3.2" stroke="#333" stroke-width="1.1"/>
<text x="352.5" y="274.60" font-size="14.2" text-anchor="end">0.00</text>
<text x="352.5" y="255.30" font-size="14.2" text-anchor="end">0.05</text>
<text x="352.5" y="236.00" font-size="14.2" text-anchor="end">0. 0</text>
<text x="352.5" y="216.70" font-size="14.2" text-anchor="end">0. 5</text>
<text x="352.5" y="197.40" font-size="14.2" text-anchor="end">0.20</text>
<text x="352.5" y="178.10" font-size="14.2" text-anchor="end">0.25</text>
<path d="M355.0 372.25h3.2M533.9 372.25h-3.2M355.0 357.20h3.2M533.9 357.20h-3.2M355.0 342.15h3.2M533.9 342.15h-3.2M355.0 327.10h3.2M533.9 327.10h-3.2M355.0 312.05h3.2M533.9 312.05h-3.2M355.0 297.00h3.2M533.9 297.00h-3.2M355.0 281.95h3.2M533.9 281.95h-3.2" stroke="#333" stroke-width="1.1"/>
<text x="352.5" y="392.30" font-size="14.2" text-anchor="end">0.0</text>
<text x="352.5" y="362.20" font-size="14.2" text-anchor="end">0. </text>
<text x="352.5" y="332.10" font-size="14.2" text-anchor="end">0.2</text>
<text x="352.5" y="302.00" font-size="14.2" text-anchor="end">0.3</text>
<path d="M355.0 486.40h3.2M533.9 486.40h-3.2M355.0 466.30h3.2M533.9 466.30h-3.2M355.0 446.20h3.2M533.9 446.20h-3.2M355.0 426.10h3.2M533.9 426.10h-3.2M355.0 406.00h3.2M533.9 406.00h-3.2" stroke="#333" stroke-width="1.1"/>
<text x="352.5" y="511.50" font-size="14.2" text-anchor="end">0.4</text>
<text x="352.5" y="491.40" font-size="14.2" text-anchor="end">0.5</text>
<text x="352.5" y="471.30" font-size="14.2" text-anchor="end">0.6</text>
<text x="352.5" y="451.20" font-size="14.2" text-anchor="end">0.7</text>
<text x="352.5" y="431.10" font-size="14.2" text-anchor="end">0.8</text>
<text x="352.5" y="411.00" font-size="14.2" text-anchor="end">0.9</text>
<path d="M359.5 48.2H366.9L363.2 55.6Z" fill="#C6C6C6"/>
<circle cx="516.40" cy="76.00" r="4.7" fill="#F8B3B7"/>
<circle cx="516.40" cy="94.30" r="4.7" fill="#F27A80"/>
<path d="M523.90 127.50V83.60H522.00L525.90 76.60L529.80 83.60H527.90V127.50Z" fill="#C6C6C6"/>
<path d="M373.00 49.60 L408.70 86.40 L444.60 79.30 L480.50 87.00 L516.40 128.40" stroke="#EC2A32" stroke-width="1.0" fill="none"/>
<circle cx="373.00" cy="49.60" r="5.0" fill="#E3141C"/>
<circle cx="408.70" cy="86.40" r="5.0" fill="#E3141C"/>
<circle cx="444.60" cy="79.30" r="5.0" fill="#E3141C"/>
<circle cx="480.50" cy="87.00" r="5.0" fill="#E3141C"/>
<circle cx="516.40" cy="128.40" r="5.0" fill="#E3141C"/>
<path d="M375.60 62.00L374.34 58.44" stroke="#F27C84" stroke-width="1.1" fill="none"/><path d="M373.40 55.80L376.46 58.75L374.27 58.25L372.88 60.02Z" fill="#F27C84"/>
<text x="378.2" y="50.8" font-size="9.6" text-anchor="start" > st</text>
<text x="358.9" y="67.6" font-size="9.6" text-anchor="start" >Aged</text>
<text x="509.3" y="76.7" font-size="9.6" text-anchor="end" >Aged</text>
<text x="509.3" y="95.0" font-size="9.6" text-anchor="end" >2nd</text>
<text x="509.3" y="130.7" font-size="9.6" text-anchor="end" > st</text>
<text x="370.2" y="137.3" font-size="14.5"><tspan font-style="italic">J</tspan><tspan font-size="9.6" dy="3.4"> .23V</tspan></text>
<circle cx="372.80" cy="229.00" r="4.7" fill="#F8B3B7"/>
<circle cx="516.40" cy="204.60" r="4.7" fill="#F8B3B7"/>
<circle cx="516.40" cy="235.70" r="4.7" fill="#F27A80"/>
<path d="M362.20 240.20V234.10H360.70L363.70 228.60L366.70 234.10H365.20V240.20Z" fill="#C6C6C6"/>
<path d="M523.60 242.20V211.60H521.70L525.60 204.60L529.50 211.60H527.60V242.20Z" fill="#C6C6C6"/>
<path d="M372.80 238.50 L408.70 187.70 L444.60 200.90 L480.50 244.60 L516.40 239.90" stroke="#EC2A32" stroke-width="1.0" fill="none"/>
<circle cx="372.80" cy="238.50" r="5.0" fill="#E3141C"/>
<circle cx="408.70" cy="187.70" r="5.0" fill="#E3141C"/>
<circle cx="444.60" cy="200.90" r="5.0" fill="#E3141C"/>
<circle cx="480.50" cy="244.60" r="5.0" fill="#E3141C"/>
<circle cx="516.40" cy="239.90" r="5.0" fill="#E3141C"/>
<text x="490.6" y="179.2" font-size="13.6">OCP</text>
<text x="360.4" y="222.2" font-size="9.6" text-anchor="start" >Aged</text>
<text x="366.0" y="252.7" font-size="9.6" text-anchor="start" > st</text>
<text x="512.2" y="199.4" font-size="9.6" text-anchor="end" >Aged</text>
<text x="512.2" y="232.9" font-size="9.6" text-anchor="end" >2nd</text>
<text x="512.2" y="252.6" font-size="9.6" text-anchor="end" > st</text>
<path d="M372.70 297.10 L408.70 326.00 L444.50 319.60 L480.50 321.60 L516.20 374.00" stroke="#EC2A32" stroke-width="1.0" fill="none"/>
<circle cx="372.70" cy="297.10" r="5.0" fill="#E3141C"/>
<circle cx="408.70" cy="326.00" r="5.0" fill="#E3141C"/>
<circle cx="444.50" cy="319.60" r="5.0" fill="#E3141C"/>
<circle cx="480.50" cy="321.60" r="5.0" fill="#E3141C"/>
<circle cx="516.20" cy="374.00" r="5.0" fill="#E3141C"/>
<text x="367.5" y="375.3" font-size="14.5">η<tspan font-size="10" dy="3">max</tspan></text>
<path d="M372.70 493.30 L408.70 470.20 L444.50 483.10 L480.50 488.20 L516.20 413.40" stroke="#EC2A32" stroke-width="1.0" fill="none"/>
<circle cx="372.70" cy="493.30" r="5.0" fill="#E3141C"/>
<circle cx="408.70" cy="470.20" r="5.0" fill="#E3141C"/>
<circle cx="444.50" cy="483.10" r="5.0" fill="#E3141C"/>
<circle cx="480.50" cy="488.20" r="5.0" fill="#E3141C"/>
<circle cx="516.20" cy="413.40" r="5.0" fill="#E3141C"/>
<text x="366.5" y="415.4" font-size="14.5"><tspan font-style="italic">E</tspan><tspan font-size="10" dy="3">OP</tspan></text>
<text transform="translate(304.6 145.2) rotate(-90)" font-size="14.1"><tspan font-style="italic">J</tspan><tspan font-size="9.8" dy="3.3"> .23V</tspan><tspan dy="-3.3"> / mA·cm</tspan><tspan font-size="10" dy="-10.2" dx="0.5">-2</tspan></text>
<text transform="translate(304.7 250.4) rotate(-90)" font-size="14.1">OCP / V<tspan font-size="10" dy="3.2">RHE</tspan></text>
<text transform="translate(304.7 357.2) rotate(-90)" font-size="14.1">η<tspan font-size="10" dy="3.2">max</tspan><tspan dy="-3.2"> / %</tspan></text>
<text transform="translate(304.7 480.9) rotate(-90)" font-size="14.1"><tspan font-style="italic">E</tspan><tspan font-size="10" dy="3.2">OP</tspan><tspan dy="-3.2"> / V</tspan><tspan font-size="10" dy="3.2">CE</tspan></text>
<text transform="translate(377.40 19.8) rotate(-90)" font-size="14.3" text-anchor="middle">(00 )</text>
<text transform="translate(377.40 527.4) rotate(-90)" font-size="14.3" text-anchor="middle">(00 )</text>
<text transform="translate(413.30 19.8) rotate(-90)" font-size="14.3" text-anchor="middle">( 00)</text>
<text transform="translate(413.30 527.4) rotate(-90)" font-size="14.3" text-anchor="middle">( 00)</text>
<text transform="translate(449.20 19.8) rotate(-90)" font-size="14.3" text-anchor="middle">(  0)</text>
<text transform="translate(449.20 527.4) rotate(-90)" font-size="14.3" text-anchor="middle">(  0)</text>
<text transform="translate(485.10 19.8) rotate(-90)" font-size="14.3" text-anchor="middle">( 0 )</text>
<text transform="translate(485.10 527.4) rotate(-90)" font-size="14.3" text-anchor="middle">( 0 )</text>
<text transform="translate(521.00 19.8) rotate(-90)" font-size="14.3" text-anchor="middle">(   )</text>
<text transform="translate(521.00 527.4) rotate(-90)" font-size="14.3" text-anchor="middle">(   )</text>
<g class="one" fill="#111" stroke="#111"><path transform="matrix(1.00000 0.00000 0.00000 1.00000 0.000 0.000) translate(196.863 520.700) scale(0.006006 -0.006006)" d="M515 0L515 1237L197 1010L197 1180L530 1409L696 1409L696 0Z" stroke-width="0.30" vector-effect="non-scaling-stroke"/><path transform="matrix(1.00000 0.00000 0.00000 1.00000 0.000 0.000) translate(220.863 520.700) scale(0.006006 -0.006006)" d="M515 0L515 1237L197 1010L197 1180L530 1409L696 1409L696 0Z" stroke-width="0.30" vector-effect="non-scaling-stroke"/><path transform="matrix(1.00000 0.00000 0.00000 1.00000 0.000 0.000) translate(244.863 520.700) scale(0.006006 -0.006006)" d="M515 0L515 1237L197 1010L197 1180L530 1409L696 1409L696 0Z" stroke-width="0.30" vector-effect="non-scaling-stroke"/><path transform="matrix(1.00000 0.00000 0.00000 1.00000 0.000 0.000) translate(88.656 126.400) scale(0.006348 -0.006348)" d="M515 0L515 1237L197 1010L197 1180L530 1409L696 1409L696 0Z" stroke-width="0.30" vector-effect="non-scaling-stroke"/><path transform="matrix(1.00000 0.00000 0.00000 1.00000 0.000 0.000) translate(74.656 219.700) scale(0.006348 -0.006348)" d="M515 0L515 1237L197 1010L197 1180L530 1409L696 1409L696 0Z" stroke-width="0.30" vector-effect="non-scaling-stroke"/><path transform="matrix(1.00000 0.00000 0.00000 1.00000 0.000 0.000) translate(74.656 306.800) scale(0.006348 -0.006348)" d="M515 0L515 1237L197 1010L197 1180L530 1409L696 1409L696 0Z" stroke-width="0.30" vector-effect="non-scaling-stroke"/><path transform="matrix(1.00000 0.00000 0.00000 1.00000 0.000 0.000) translate(81.656 306.800) scale(0.006348 -0.006348)" d="M515 0L515 1237L197 1010L197 1180L530 1409L696 1409L696 0Z" stroke-width="0.30" vector-effect="non-scaling-stroke"/><path transform="matrix(1.00000 0.00000 0.00000 1.00000 0.000 0.000) translate(74.656 392.400) scale(0.006348 -0.006348)" d="M515 0L515 1237L197 1010L197 1180L530 1409L696 1409L696 0Z" stroke-width="0.30" vector-effect="non-scaling-stroke"/><path transform="matrix(1.00000 0.00000 0.00000 1.00000 0.000 0.000) translate(88.656 392.400) scale(0.006348 -0.006348)" d="M515 0L515 1237L197 1010L197 1180L530 1409L696 1409L696 0Z" stroke-width="0.30" vector-effect="non-scaling-stroke"/><path transform="matrix(1.00000 0.00000 0.00000 1.00000 0.000 0.000) translate(74.656 481.000) scale(0.006348 -0.006348)" d="M515 0L515 1237L197 1010L197 1180L530 1409L696 1409L696 0Z" stroke-width="0.30" vector-effect="non-scaling-stroke"/><path transform="matrix(1.00000 0.00000 0.00000 1.00000 0.000 0.000) translate(81.656 481.000) scale(0.006348 -0.006348)" d="M515 0L515 1237L197 1010L197 1180L530 1409L696 1409L696 0Z" stroke-width="0.30" vector-effect="non-scaling-stroke"/><path transform="matrix(1.00000 0.00000 0.00000 1.00000 0.000 0.000) translate(89.656 481.000) scale(0.006348 -0.006348)" d="M515 0L515 1237L197 1010L197 1180L530 1409L696 1409L696 0Z" stroke-width="0.30" vector-effect="non-scaling-stroke"/><path transform="matrix(1.00000 0.00000 0.00000 1.00000 0.000 0.000) translate(78.863 105.500) scale(0.006006 -0.006006)" d="M515 0L515 1237L197 1010L197 1180L530 1409L696 1409L696 0Z" stroke-width="0.30" vector-effect="non-scaling-stroke"/><path transform="matrix(1.00000 0.00000 0.00000 1.00000 0.000 0.000) translate(218.716 458.000) scale(0.006250 -0.006250)" d="M515 0L515 1237L197 1010L197 1180L530 1409L696 1409L696 0Z" stroke-width="0.30" vector-effect="non-scaling-stroke"/><path transform="matrix(1.00000 0.00000 0.00000 1.00000 0.000 0.000) translate(336.302 236.000) scale(0.006934 -0.006934)" d="M515 0L515 1237L197 1010L197 1180L530 1409L696 1409L696 0Z" stroke-width="0.30" vector-effect="non-scaling-stroke"/><path transform="matrix(1.00000 0.00000 0.00000 1.00000 0.000 0.000) translate(336.302 216.700) scale(0.006934 -0.006934)" d="M515 0L515 1237L197 1010L197 1180L530 1409L696 1409L696 0Z" stroke-width="0.30" vector-effect="non-scaling-stroke"/><path transform="matrix(1.00000 0.00000 0.00000 1.00000 0.000 0.000) translate(344.302 362.200) scale(0.006934 -0.006934)" d="M515 0L515 1237L197 1010L197 1180L530 1409L696 1409L696 0Z" stroke-width="0.30" vector-effect="non-scaling-stroke"/><path transform="matrix(1.00000 0.00000 0.00000 1.00000 0.000 0.000) translate(378.662 50.800) scale(0.004687 -0.004687)" d="M515 0L515 1237L197 1010L197 1180L530 1409L696 1409L696 0Z" stroke-width="0.50" vector-effect="non-scaling-stroke"/><path transform="matrix(1.00000 0.00000 0.00000 1.00000 0.000 0.000) translate(496.662 130.700) scale(0.004687 -0.004687)" d="M515 0L515 1237L197 1010L197 1180L530 1409L696 1409L696 0Z" stroke-width="0.50" vector-effect="non-scaling-stroke"/><path transform="matrix(1.00000 0.00000 0.00000 1.00000 0.000 0.000) translate(377.662 140.700) scale(0.004687 -0.004687)" d="M515 0L515 1237L197 1010L197 1180L530 1409L696 1409L696 0Z" stroke-width="0.50" vector-effect="non-scaling-stroke"/><path transform="matrix(1.00000 0.00000 0.00000 1.00000 0.000 0.000) translate(365.662 252.700) scale(0.004687 -0.004687)" d="M515 0L515 1237L197 1010L197 1180L530 1409L696 1409L696 0Z" stroke-width="0.50" vector-effect="non-scaling-stroke"/><path transform="matrix(1.00000 0.00000 0.00000 1.00000 0.000 0.000) translate(499.662 252.600) scale(0.004687 -0.004687)" d="M515 0L515 1237L197 1010L197 1180L530 1409L696 1409L696 0Z" stroke-width="0.50" vector-effect="non-scaling-stroke"/><path transform="matrix(0.00000 -1.00000 1.00000 0.00000 304.600 145.200) translate(6.803 3.300) scale(0.004785 -0.004785)" d="M515 0L515 1237L197 1010L197 1180L530 1409L696 1409L696 0Z" stroke-width="0.48" vector-effect="non-scaling-stroke"/><path transform="matrix(0.00000 -1.00000 1.00000 0.00000 377.400 19.800) translate(4.072 0.000) scale(0.006982 -0.006982)" d="M515 0L515 1237L197 1010L197 1180L530 1409L696 1409L696 0Z" stroke-width="0.30" vector-effect="non-scaling-stroke"/><path transform="matrix(0.00000 -1.00000 1.00000 0.00000 377.400 527.400) translate(3.672 0.000) scale(0.006982 -0.006982)" d="M515 0L515 1237L197 1010L197 1180L530 1409L696 1409L696 0Z" stroke-width="0.30" vector-effect="non-scaling-stroke"/><path transform="matrix(0.00000 -1.00000 1.00000 0.00000 413.300 19.800) translate(-11.928 0.000) scale(0.006982 -0.006982)" d="M515 0L515 1237L197 1010L197 1180L530 1409L696 1409L696 0Z" stroke-width="0.30" vector-effect="non-scaling-stroke"/><path transform="matrix(0.00000 -1.00000 1.00000 0.00000 413.300 527.400) translate(-12.328 0.000) scale(0.006982 -0.006982)" d="M515 0L515 1237L197 1010L197 1180L530 1409L696 1409L696 0Z" stroke-width="0.30" vector-effect="non-scaling-stroke"/><path transform="matrix(0.00000 -1.00000 1.00000 0.00000 449.200 19.800) translate(-11.928 0.000) scale(0.006982 -0.006982)" d="M515 0L515 1237L197 1010L197 1180L530 1409L696 1409L696 0Z" stroke-width="0.30" vector-effect="non-scaling-stroke"/><path transform="matrix(0.00000 -1.00000 1.00000 0.00000 449.200 19.800) translate(-3.928 0.000) scale(0.006982 -0.006982)" d="M515 0L515 1237L197 1010L197 1180L530 1409L696 1409L696 0Z" stroke-width="0.30" vector-effect="non-scaling-stroke"/><path transform="matrix(0.00000 -1.00000 1.00000 0.00000 449.200 527.400) translate(-12.328 0.000) scale(0.006982 -0.006982)" d="M515 0L515 1237L197 1010L197 1180L530 1409L696 1409L696 0Z" stroke-width="0.30" vector-effect="non-scaling-stroke"/><path transform="matrix(0.00000 -1.00000 1.00000 0.00000 449.200 527.400) translate(-4.328 0.000) scale(0.006982 -0.006982)" d="M515 0L515 1237L197 1010L197 1180L530 1409L696 1409L696 0Z" stroke-width="0.30" vector-effect="non-scaling-stroke"/><path transform="matrix(0.00000 -1.00000 1.00000 0.00000 485.100 19.800) translate(-11.928 0.000) scale(0.006982 -0.006982)" d="M515 0L515 1237L197 1010L197 1180L530 1409L696 1409L696 0Z" stroke-width="0.30" vector-effect="non-scaling-stroke"/><path transform="matrix(0.00000 -1.00000 1.00000 0.00000 485.100 19.800) translate(4.072 0.000) scale(0.006982 -0.006982)" d="M515 0L515 1237L197 1010L197 1180L530 1409L696 1409L696 0Z" stroke-width="0.30" vector-effect="non-scaling-stroke"/><path transform="matrix(0.00000 -1.00000 1.00000 0.00000 485.100 527.400) translate(-12.328 0.000) scale(0.006982 -0.006982)" d="M515 0L515 1237L197 1010L197 1180L530 1409L696 1409L696 0Z" stroke-width="0.30" vector-effect="non-scaling-stroke"/><path transform="matrix(0.00000 -1.00000 1.00000 0.00000 485.100 527.400) translate(3.672 0.000) scale(0.006982 -0.006982)" d="M515 0L515 1237L197 1010L197 1180L530 1409L696 1409L696 0Z" stroke-width="0.30" vector-effect="non-scaling-stroke"/><path transform="matrix(0.00000 -1.00000 1.00000 0.00000 521.000 19.800) translate(-11.928 0.000) scale(0.006982 -0.006982)" d="M515 0L515 1237L197 1010L197 1180L530 1409L696 1409L696 0Z" stroke-width="0.30" vector-effect="non-scaling-stroke"/><path transform="matrix(0.00000 -1.00000 1.00000 0.00000 521.000 19.800) translate(-3.928 0.000) scale(0.006982 -0.006982)" d="M515 0L515 1237L197 1010L197 1180L530 1409L696 1409L696 0Z" stroke-width="0.30" vector-effect="non-scaling-stroke"/><path transform="matrix(0.00000 -1.00000 1.00000 0.00000 521.000 19.800) translate(4.072 0.000) scale(0.006982 -0.006982)" d="M515 0L515 1237L197 1010L197 1180L530 1409L696 1409L696 0Z" stroke-width="0.30" vector-effect="non-scaling-stroke"/><path transform="matrix(0.00000 -1.00000 1.00000 0.00000 521.000 527.400) translate(-12.328 0.000) scale(0.006982 -0.006982)" d="M515 0L515 1237L197 1010L197 1180L530 1409L696 1409L696 0Z" stroke-width="0.30" vector-effect="non-scaling-stroke"/><path transform="matrix(0.00000 -1.00000 1.00000 0.00000 521.000 527.400) translate(-4.328 0.000) scale(0.006982 -0.006982)" d="M515 0L515 1237L197 1010L197 1180L530 1409L696 1409L696 0Z" stroke-width="0.30" vector-effect="non-scaling-stroke"/><path transform="matrix(0.00000 -1.00000 1.00000 0.00000 521.000 527.400) translate(3.672 0.000) scale(0.006982 -0.006982)" d="M515 0L515 1237L197 1010L197 1180L530 1409L696 1409L696 0Z" stroke-width="0.30" vector-effect="non-scaling-stroke"/></g>
</svg></body></html>
